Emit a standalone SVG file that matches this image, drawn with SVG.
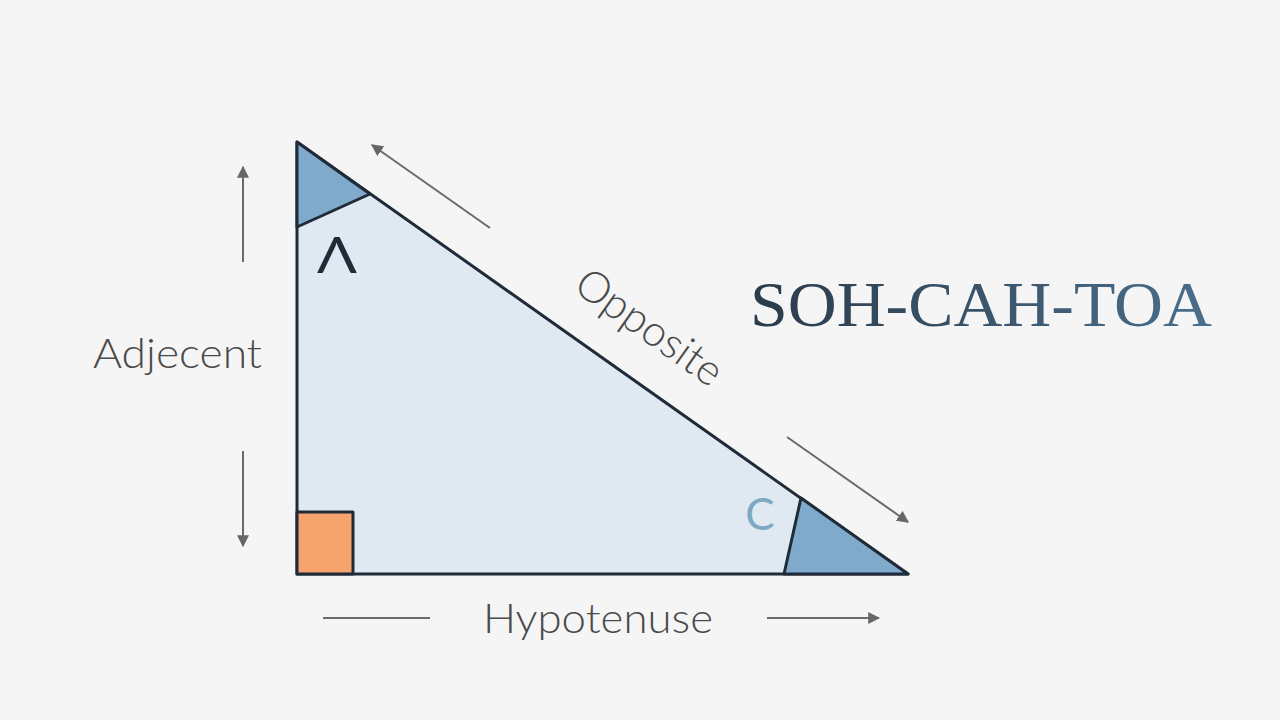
<svg xmlns="http://www.w3.org/2000/svg" width="1280" height="720" viewBox="0 0 1280 720">
<defs>
<marker id="ah" viewBox="0 0 10 10" refX="9" refY="5" markerWidth="6" markerHeight="6" orient="auto" markerUnits="strokeWidth">
<path d="M0,0 L10,5 L0,10 Z" fill="#666"/>
</marker>
<linearGradient id="tg" x1="0" y1="0" x2="1" y2="0">
<stop offset="0" stop-color="#2a3a4a"/>
<stop offset="1" stop-color="#4a6f8c"/>
</linearGradient>
<style>
.edge{stroke:#6a6a6a;stroke-width:2;fill:none}
.lbl{font-family:"Lato","Open Sans","Liberation Sans",sans-serif;font-weight:300;fill:#4a4a4a}
.outline{stroke:#1f2b38;stroke-width:3;stroke-linejoin:round}
</style>
</defs>
<rect width="1280" height="720" fill="#f5f5f5"/>
<g id="triangle">
<polygon class="outline" points="297,142 297,574 908,574" fill="#e0e9f1"/>
</g>
<g id="angle-top">
<polygon class="outline" points="297,142 370,194 297,227" fill="#80aacb"/>
<text x="337" y="273" text-anchor="middle" font-family="Lato, DejaVu Sans, sans-serif" font-size="50" textLength="40" lengthAdjust="spacingAndGlyphs" fill="#1f2b38">Λ</text>
</g>
<g id="angle-c">
<polygon class="outline" points="801,498 908,574 784,574" fill="#80aacb"/>
<text x="760" y="530" text-anchor="middle" font-family="Lato, Open Sans, Liberation Sans, sans-serif" font-size="44" fill="#7fa8c4">C</text>
</g>
<g id="right-angle">
<rect class="outline" x="297" y="512" width="56" height="62" fill="#f6a36d"/>
</g>
<g id="labels">
<text class="lbl" x="93" y="368" font-size="42" textLength="169" lengthAdjust="spacingAndGlyphs">Adjecent</text>
<text class="lbl" x="483" y="633" font-size="42" textLength="230" lengthAdjust="spacingAndGlyphs">Hypotenuse</text>
<text class="lbl" transform="translate(641,339) rotate(35.3)" text-anchor="middle" font-size="43">Opposite</text>
</g>
<g id="title">
<text x="750" y="326" font-family="Liberation Serif, serif" font-size="64" textLength="462" lengthAdjust="spacingAndGlyphs" fill="url(#tg)">SOH-CAH-TOA</text>
</g>
<g id="connectors">
<line class="edge" x1="243" y1="262" x2="243" y2="167" marker-end="url(#ah)"/>
<line class="edge" x1="243" y1="451" x2="243" y2="546" marker-end="url(#ah)"/>
<line class="edge" x1="490" y1="228" x2="372" y2="145" marker-end="url(#ah)"/>
<line class="edge" x1="787" y1="437" x2="908" y2="522" marker-end="url(#ah)"/>
<line class="edge" x1="323" y1="618" x2="430" y2="618"/>
<line class="edge" x1="767" y1="618" x2="879" y2="618" marker-end="url(#ah)"/>
</g>
</svg>
